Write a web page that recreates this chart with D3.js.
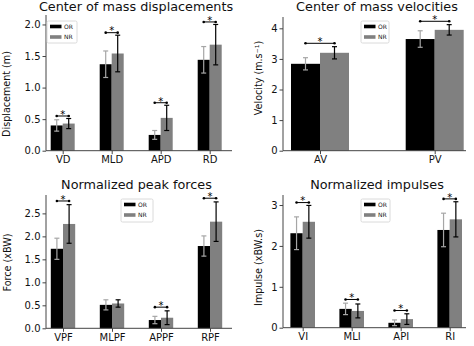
<!DOCTYPE html>
<html>
<head>
<meta charset="utf-8">
<script src="https://cdn.jsdelivr.net/npm/d3@7/dist/d3.min.js"></script>
<style>
  html, body { margin: 0; padding: 0; background: #fff; }
  svg { display: block; font-family: "DejaVu Sans", sans-serif; }
</style>
</head>
<body>
<svg id="chart" width="474" height="346"></svg>
<script>
// Center of mass displacements (m)
const dispCats   = ["VD", "MLD", "APD", "RD"];
const dispOR     = [0.40, 1.37, 0.25, 1.44];
const dispORerr  = [0.09, 0.21, 0.07, 0.21];
const dispNR     = [0.43, 1.54, 0.52, 1.68];
const dispNRerr  = [0.08, 0.29, 0.20, 0.32];
const dispSig    = [0.55, 1.87, 0.76, 2.04];
const dispTicks  = [0, 0.5, 1.0, 1.5, 2.0];

// Center of mass velocities (m.s-1)
const velCats    = ["AV", "PV"];
const velOR      = [2.84, 3.65];
const velORerr   = [0.20, 0.27];
const velNR      = [3.20, 3.95];
const velNRerr   = [0.20, 0.17];
const velSig     = [3.51, 4.23];
const velTicks   = [0, 1, 2, 3, 4];

// Normalized peak forces (xBW)
const forceCats   = ["VPF", "MLPF", "APPF", "RPF"];
const forceOR     = [1.73, 0.51, 0.18, 1.79];
const forceORerr  = [0.23, 0.11, 0.08, 0.22];
const forceNR     = [2.27, 0.54, 0.23, 2.32];
const forceNRerr  = [0.42, 0.08, 0.15, 0.43];
const forceSig    = [2.77, null, 0.46, 2.83];
const forceTicks  = [0, 0.5, 1.0, 1.5, 2.0, 2.5];

// Normalized impulses (xBW.s)
const impCats    = ["VI", "MLI", "API", "RI"];
const impOR      = [2.31, 0.46, 0.12, 2.39];
const impORerr   = [0.40, 0.14, 0.07, 0.41];
const impNR      = [2.59, 0.41, 0.21, 2.65];
const impNRerr   = [0.40, 0.17, 0.13, 0.43];
const impSig     = [3.06, 0.69, 0.42, 3.15];
const impTicks   = [0, 1, 2, 3];

const groups = ["OR", "NR"];
const barFill = { OR: "#000000", NR: "#808080" };
const errColor = { OR: "#a6a6a6", NR: "#000000" };

const panels = [
  { title: "Center of mass displacements", ylabel: "Displacement (m)",
    cats: dispCats, or: dispOR, orErr: dispORerr, nr: dispNR, nrErr: dispNRerr,
    sig: dispSig, ticks: dispTicks, fmt: d3.format(".1f"), yMax: 2.15,
    left: 46, right: 232, top: 15, bottom: 150.7, c0: 62.7, c1: 209.7, barW: 12,
    legend: [47, 21, 30, 22], titleX: 136, titleY: 10.5, ylabX: 7, ylabY: 94 },
  { title: "Center of mass velocities", ylabel: "Velocity (m.s\u207B\u00B9)",
    cats: velCats, or: velOR, orErr: velORerr, nr: velNR, nrErr: velNRerr,
    sig: velSig, ticks: velTicks, fmt: d3.format("d"), yMax: 4.37,
    left: 283, right: 466, top: 17, bottom: 150.7, c0: 320, c1: 434.7, barW: 29,
    legend: [361, 21, 28, 22], titleX: 377, titleY: 11, ylabX: 259, ylabY: 78 },
  { title: "Normalized peak forces", ylabel: "Force (xBW)",
    cats: forceCats, or: forceOR, orErr: forceORerr, nr: forceNR, nrErr: forceNRerr,
    sig: forceSig, ticks: forceTicks, fmt: d3.format(".1f"), yMax: 2.9,
    left: 46, right: 232, top: 195, bottom: 328.3, c0: 63, c1: 210, barW: 12.2,
    legend: [121, 199, 32, 23], titleX: 136.5, titleY: 189, ylabX: 7.5, ylabY: 262.5 },
  { title: "Normalized impulses", ylabel: "Impulse (xBW.s)",
    cats: impCats, or: impOR, orErr: impORerr, nr: impNR, nrErr: impNRerr,
    sig: impSig, ticks: impTicks, fmt: d3.format("d"), yMax: 3.245,
    left: 283, right: 466, top: 195, bottom: 327.7, c0: 302.7, c1: 449.7, barW: 12.3,
    legend: [361, 199, 29, 23], titleX: 377, titleY: 189, ylabX: 259, ylabY: 267.5 }
];

const svg = d3.select("#chart");

panels.forEach(p => {
  const g = svg.append("g");
  const x = d3.scalePoint().domain(p.cats).range([p.c0, p.c1]);
  const y = d3.scaleLinear().domain([0, p.yMax]).range([p.bottom, p.top]);

  // bars with error bars
  const rows = p.cats.map((c, i) => ({
    cat: c,
    vals: [
      { grp: "OR", v: p.or[i], e: p.orErr[i] },
      { grp: "NR", v: p.nr[i], e: p.nrErr[i] }
    ]
  }));

  rows.forEach(r => {
    r.vals.forEach((d, j) => {
      const x0 = x(r.cat) + (j === 0 ? -p.barW : 0);
      const cx = x0 + p.barW / 2;
      g.append("rect")
        .attr("x", x0).attr("width", p.barW)
        .attr("y", y(d.v)).attr("height", y(0) - y(d.v))
        .attr("fill", barFill[d.grp]);
      const eg = g.append("g").attr("stroke", errColor[d.grp]).attr("stroke-width", 1.2);
      eg.append("line").attr("x1", cx).attr("x2", cx)
        .attr("y1", y(d.v + d.e)).attr("y2", y(d.v - d.e));
      [d.v + d.e, d.v - d.e].forEach(t => {
        eg.append("line").attr("x1", cx - 2.5).attr("x2", cx + 2.5)
          .attr("y1", y(t)).attr("y2", y(t));
      });
    });
  });

  // significance brackets
  p.cats.forEach((c, i) => {
    const s = p.sig[i];
    if (s == null) return;
    const xa = x(c) - p.barW / 2, xb = x(c) + p.barW / 2, ys = y(s);
    g.append("line").attr("x1", xa).attr("x2", xb).attr("y1", ys).attr("y2", ys)
      .attr("stroke", "#000").attr("stroke-width", 1);
    [xa, xb].forEach(xx => g.append("circle").attr("cx", xx).attr("cy", ys).attr("r", 1.3).attr("fill", "#000"));
    g.append("text").attr("x", (xa + xb) / 2).attr("y", ys + 1.8)
      .attr("text-anchor", "middle").attr("font-size", 10).attr("fill", "#000").text("*");
  });

  // axes
  const yAxis = d3.axisLeft(y).tickValues(p.ticks).tickFormat(p.fmt).tickSize(3.5).tickPadding(2);
  const ya = g.append("g").attr("transform", `translate(${p.left},0)`).call(yAxis);
  ya.select(".domain").remove();
  const xAxis = d3.axisBottom(x).tickSize(3.5).tickPadding(2);
  const xa = g.append("g").attr("transform", `translate(0,${p.bottom})`).call(xAxis);
  xa.select(".domain").remove();
  [ya, xa].forEach(a => {
    a.selectAll("text").attr("font-size", 10).attr("fill", "#111")
      .attr("font-family", "DejaVu Sans, sans-serif");
    a.selectAll("line").attr("stroke", "#444");
  });

  // spines (left and bottom only)
  g.append("line").attr("x1", p.left).attr("x2", p.left).attr("y1", p.top).attr("y2", p.bottom)
    .attr("stroke", "#444").attr("stroke-width", 1);
  g.append("line").attr("x1", p.left).attr("x2", p.right).attr("y1", p.bottom).attr("y2", p.bottom)
    .attr("stroke", "#444").attr("stroke-width", 1);

  // title and axis label
  g.append("text").attr("x", p.titleX).attr("y", p.titleY).attr("text-anchor", "middle")
    .attr("font-size", 12.8).attr("fill", "#111").text(p.title);
  g.append("text").attr("transform", `translate(${p.ylabX},${p.ylabY}) rotate(-90)`)
    .attr("text-anchor", "middle").attr("dy", "0.35em")
    .attr("font-size", 9.6).attr("fill", "#111").text(p.ylabel);

  // legend
  const [lx, ly, lw, lh] = p.legend;
  const lg = g.append("g");
  lg.append("rect").attr("x", lx).attr("y", ly).attr("width", lw).attr("height", lh)
    .attr("rx", 1.5).attr("fill", "#fff").attr("fill-opacity", 0.8)
    .attr("stroke", "#d0d0d0").attr("stroke-width", 0.8);
  groups.forEach((grp, k) => {
    const yy = ly + 5.5 + k * 10.5;
    lg.append("rect").attr("x", lx + 3).attr("y", yy - 1.8).attr("width", 11.5).attr("height", 3.6)
      .attr("fill", barFill[grp]);
    lg.append("text").attr("x", lx + 17).attr("y", yy).attr("dy", "0.35em")
      .attr("font-size", 6).attr("fill", "#111").text(grp);
  });
});
</script>
</body>
</html>
